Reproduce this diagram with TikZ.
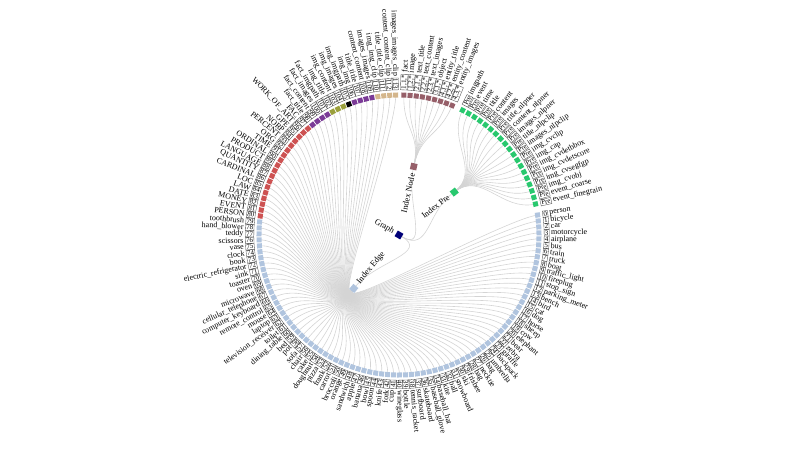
\documentclass[tikz,border=0pt]{standalone}
\usepackage{fontspec}
\setmainfont{Liberation Serif}
\usetikzlibrary{calc,backgrounds}

\definecolor{edgeblue}{RGB}{176,196,222}
\definecolor{nerred}{RGB}{205,82,82}
\definecolor{relpurple}{RGB}{122,58,150}
\definecolor{relolive}{RGB}{155,160,60}
\definecolor{cliptan}{RGB}{212,182,140}
\definecolor{nodebrown}{RGB}{150,95,105}
\definecolor{pregreen}{RGB}{40,200,110}
\definecolor{graphnavy}{RGB}{0,0,120}
\definecolor{linkgray}{RGB}{212,212,212}

% one leaf of the ring: id, angle, colour, box text, name, parent
\newcommand{\ringleaf}[6]{%
  \node[leaf, fill=#3, rotate=#2] (leaf-#1) at (#2:140) {};
  \begin{pgfonlayer}{background}
    \draw[link] (#6.center) .. controls ($(graph)!1.5!(#6)$) and (#2:105) .. (leaf-#1.center);
  \end{pgfonlayer}
  \pgfmathtruncatemacro\rside{cos(#2)>=0}%
  \ifnum\rside=1
    \node[numbox, rotate=#2, anchor=west] (num-#1) at (#2:145) {#4};
    \node[lbl, rotate=#2, anchor=west] (name-#1) at (num-#1.east) {#5};
  \else
    \node[numbox, rotate=#2+180, anchor=east] (num-#1) at (#2:145) {#4};
    \node[lbl, rotate=#2+180, anchor=east] (name-#1) at (num-#1.west) {#5};
  \fi
}

\begin{document}
\begin{tikzpicture}[x=1pt, y=1pt,
  hub/.style={rectangle, minimum size=6.5pt, inner sep=0pt},
  leaf/.style={rectangle, minimum size=5pt, inner sep=0pt},
  numbox/.style={rectangle, draw=black!70, line width=0.35pt, inner sep=0.8pt,
    minimum height=6pt, font=\fontsize{7}{7}\selectfont},
  lbl/.style={inner sep=1.5pt, font=\fontsize{8}{9}\selectfont},
  hublbl/.style={inner sep=0pt, font=\fontsize{8.5}{9}\selectfont},
  link/.style={draw=linkgray, line width=0.6pt}
]
\useasboundingbox (-399,-215) rectangle (401,235);

% root and the three indexes
\node[hub, fill=graphnavy, rotate=-30] (graph) at (0,0) {};
\node[hub, fill=edgeblue, rotate=-130.2] (edge) at (-130.2:70) {};
\node[hub, fill=nodebrown, rotate=77.85] (index) at (77.85:70) {};
\node[hub, fill=pregreen, rotate=37.85] (pre) at (37.85:70) {};

\node[hublbl, rotate=-30, anchor=east] (graph-lbl) at (150:6) {Graph};
\node[hublbl, rotate=49.8, anchor=west] (edge-lbl) at (-130.2:63) {Index Edge};
\node[hublbl, rotate=77.85, anchor=east] (index-lbl) at (77.85:63) {Index Node};
\node[hublbl, rotate=37.85, anchor=east] (pre-lbl) at (37.85:63) {Index Pre};

\begin{pgfonlayer}{background}
  \draw[link] (graph) .. controls (-30:35) and (-130.2:35) .. (edge);
  \draw[link] (graph) .. controls (-30:35) and (77.85:35) .. (index);
  \draw[link] (graph) .. controls (-30:35) and (37.85:35) .. (pre);
\end{pgfonlayer}

% object classes
\foreach \nm [count=\i from 0] in {person, bicycle, car, motorcycle, airplane, bus,
  train, truck, boat, traffic\_light, fireplug, stop\_sign, parking\_meter, bench,
  bird, cat, dog, horse, sheep, cow, elephant, bear, zebra, giraffe, backpack,
  umbrella, bag, necktie, bag, frisbee, ski, snowboard, ball, kite, baseball\_bat,
  baseball\_glove, skateboard, surfboard, tennis\_racket, bottle, wineglass, cup,
  fork, knife, spoon, bowl, banana, apple, sandwich, orange, broccoli, carrot,
  frank, pizza, doughnut, cake, chair, sofa, pot, bed, dining\_table, toilet,
  television\_receiver, laptop, mouse, remote\_control, computer\_keyboard,
  cellular\_telephone, microwave, oven, toaster, sink, electric\_refrigerator,
  book, clock, vase, scissors, teddy, hand\_blower, toothbrush}
{
  \pgfmathsetmacro\ang{8.2-2.45*\i}
  \ringleaf{e\i}{\ang}{edgeblue}{\i}{\nm}{edge}
}

% entity types
\foreach \nm [count=\i from 80] in {PERSON, EVENT, MONEY, DATE, LAW, LOC, CARDINAL,
  QUANTITY, LANGUAGE, PRODUCT, ORDINAL, TIME, ORG, PERCENT, NORP, GPE,
  WORK\_OF\_ART, FAC}
{
  \pgfmathsetmacro\ang{8.2-2.45*\i}
  \ringleaf{e\i}{\ang}{nerred}{\i}{\nm}{edge}
}

% relations
\foreach \nm/\col [count=\i from 98] in {fact\_title/relpurple, fact\_content/relpurple,
  fact\_images/relpurple, fact\_imgpath/relpurple, img\_title/relolive,
  img\_content/relolive, img\_images/relolive, img\_imgpath/black,
  img\_img/relpurple, title\_title/relpurple, content\_content/relpurple,
  images\_images/relpurple, img\_img\_clip/cliptan, title\_title\_clip/cliptan,
  content\_content\_clip/cliptan, images\_images\_clip/cliptan}
{
  \pgfmathsetmacro\ang{8.2-2.45*\i}
  \ringleaf{e\i}{\ang}{\col}{\i}{\nm}{edge}
}

% node index
\foreach \bx/\nm [count=\i from 0] in {{1,1,*}/fact, {1,2,*}/image, {2,1,*}/text\_title,
  {2,2,*}/text\_content, {2,3,*}/text\_images, {3,1,*}/object, {4,1,*}/entity\_title,
  {4,2,*}/entity\_content, {4,3,*}/entity\_images}
{
  \pgfmathsetmacro\ang{88-2.54*\i}
  \ringleaf{n\i}{\ang}{nodebrown}{\bx}{\nm}{index}
}

% preprocessing index
\foreach \nm [count=\i from 0] in {imgpath, event, time, title, content, images,
  title\_nlpner, content\_nlpner, images\_nlpner, title\_nlpclip, images\_nlpclip,
  img\_cvclip, img\_cap, img\_cvdetbbox, img\_cvdetscore, img\_cvsegfgp, img\_cvobj,
  event\_coarse, event\_finegrain}
{
  \pgfmathsetmacro\ang{63-2.79*\i}
  \ringleaf{p\i}{\ang}{pregreen}{Pre}{\nm}{pre}
}
\end{tikzpicture}
\end{document}
